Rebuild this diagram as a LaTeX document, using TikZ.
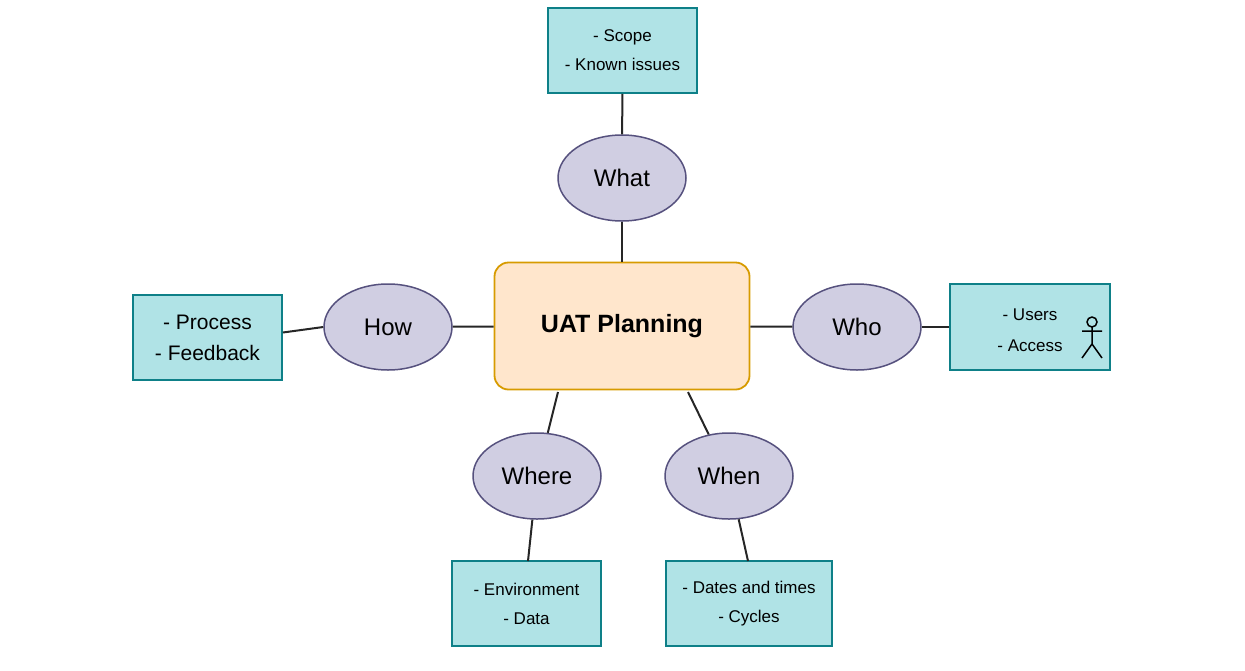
\documentclass[tikz,border=0pt]{standalone}
\usepackage{fontspec}
\setmainfont{Liberation Sans}
\usetikzlibrary{shapes.geometric}
\definecolor{ellf}{HTML}{D0CEE2}
\definecolor{elld}{HTML}{56517E}
\definecolor{boxf}{HTML}{B0E3E6}
\definecolor{boxd}{HTML}{0E8088}
\definecolor{cenf}{HTML}{FFE6CC}
\definecolor{cend}{HTML}{D79B00}
\begin{document}
\begin{tikzpicture}[x=1pt,y=-1pt,
 ell/.style={ellipse,draw=elld,fill=ellf,line width=1.5pt,minimum width=128pt,minimum height=86pt,inner sep=0pt,font=\fontsize{24}{26}\selectfont},
 info/.style={draw=boxd,fill=boxf,line width=1.8pt,align=center,inner sep=0pt,font=\fontsize{17}{29}\selectfont},
 conn/.style={line width=2pt,draw=black!85}]
\useasboundingbox (0,0) rectangle (1245,670);
\node[draw=cend,fill=cenf,line width=1.8pt,rounded corners=14pt,minimum width=255pt,minimum height=127pt,font=\bfseries\fontsize{25}{27}\selectfont] (c) at (622,326) {UAT Planning};
\node[ell] (what) at (622,178) {What};
\node[ell] (how) at (388,327) {How};
\node[ell] (who) at (857,327) {Who};
\node[ell] (where) at (537,476) {Where};
\node[ell] (when) at (729,476) {When};
\node[info,minimum width=149pt,minimum height=85pt] (bwhat) at (622.5,50.5) {- Scope\\- Known issues};
\node[info,minimum width=149pt,minimum height=85pt,font=\fontsize{21}{31}\selectfont] (bhow) at (207.5,337.5) {- Process\\- Feedback};
\node[info,minimum width=160pt,minimum height=86pt] (bwho) at (1030,327) {};
\node[font=\fontsize{17}{31}\selectfont,align=center] (twho) at (1030,330) {- Users\\- Access};
\node[info,minimum width=149pt,minimum height=85pt] (bwhere) at (526.5,603.5) {- Environment\\- Data};
\node[info,minimum width=166pt,minimum height=85pt] (bwhen) at (749,603.5) {- Dates and times\\- Cycles};
% stick figure
\draw[line width=1.5pt] (1092,322) circle (5);
\draw[line width=1.5pt] (1092,327) -- (1092,344) (1082,331) -- (1102,331) (1082,358) -- (1092,344) -- (1102,358);
\draw[conn] (bwhat) -- (what);
\draw[conn] (what) -- (c);
\draw[conn] (bhow.east) ++(0,-5) coordinate (h1) -- (how.west);
\draw[conn] (how) -- (c);
\draw[conn] (c) -- (who);
\draw[conn] (who) -- (bwho);
\coordinate (c1) at (558,392);
\coordinate (c2) at (688,392);
\draw[conn] (c1) -- (where);
\draw[conn] (c2) -- (when);
\coordinate (w1) at (528,561);
\coordinate (w2) at (748,561);
\draw[conn] (where) -- (w1);
\draw[conn] (when) -- (w2);
\end{tikzpicture}
\end{document}
